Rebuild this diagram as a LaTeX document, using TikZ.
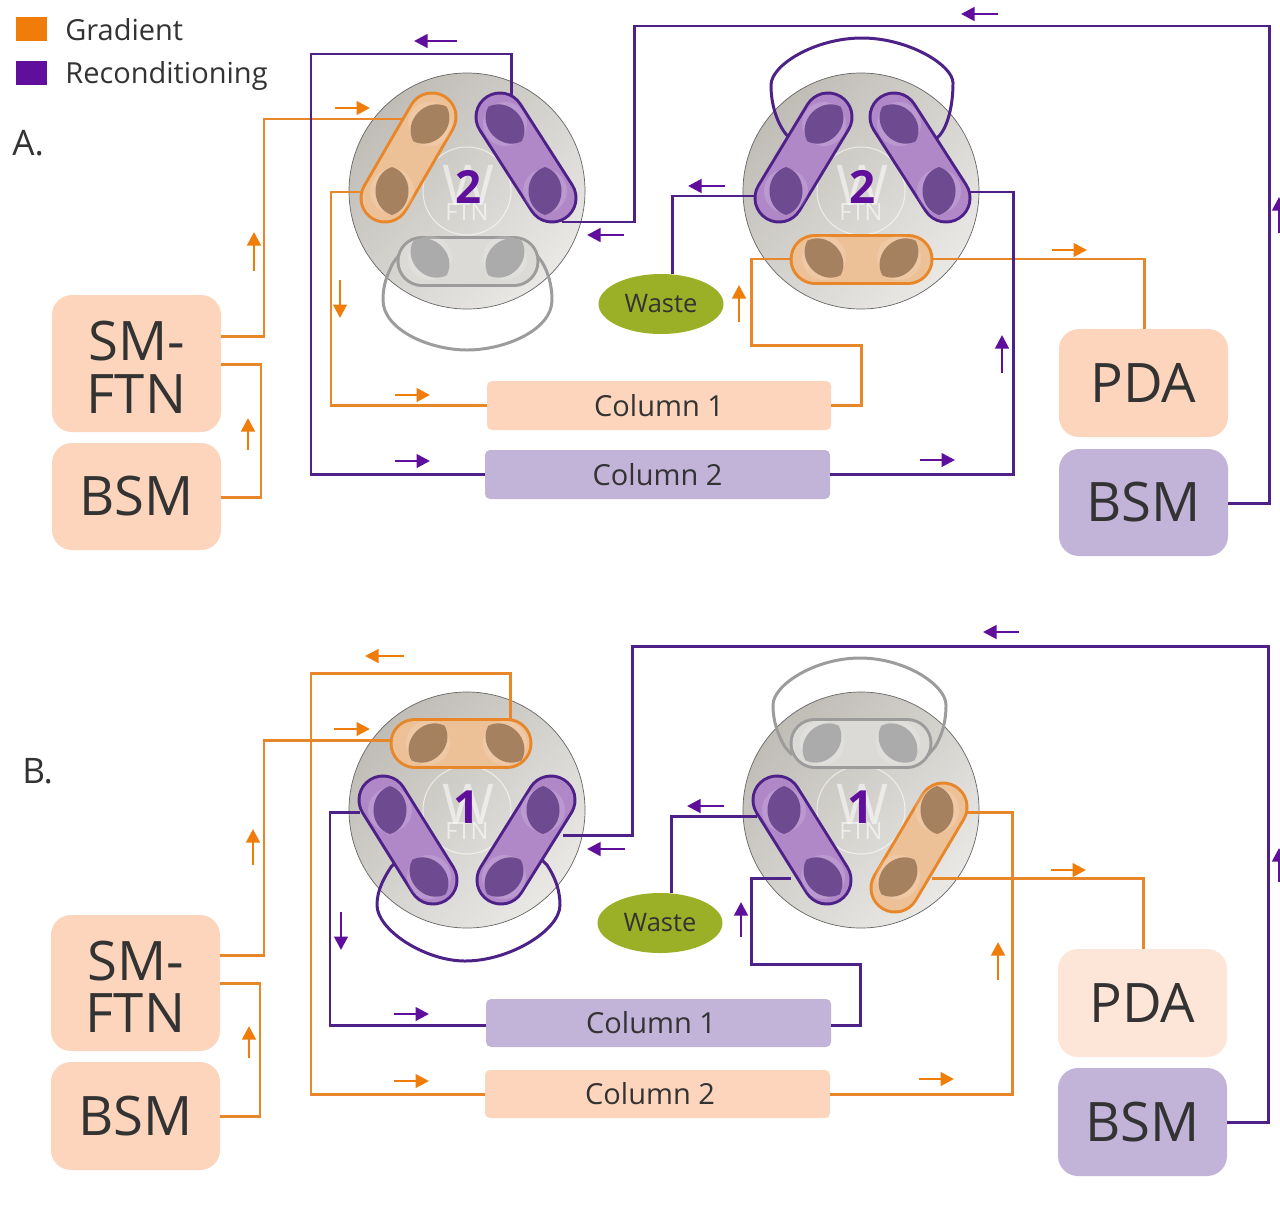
\documentclass[tikz,border=0pt]{standalone}
\usepackage{fontspec}
\setmainfont{Open Sans}
\usetikzlibrary{arrows.meta,calc,shapes.geometric}
\definecolor{org}{HTML}{E8862A}
\definecolor{pur}{HTML}{4E2188}
\definecolor{gry}{HTML}{9C9C9C}
\definecolor{orgbox}{HTML}{FCD5BC}
\definecolor{palebox}{HTML}{FDE6D8}
\definecolor{purbox}{HTML}{C2B3D9}
\definecolor{txt}{HTML}{333333}
\definecolor{wastec}{HTML}{9BB026}
\definecolor{legorg}{HTML}{F07C0A}
\definecolor{legpur}{HTML}{5F0F9B}
\definecolor{numpur}{HTML}{5F0F9B}
\definecolor{faceA}{HTML}{C0BDB7}
\definecolor{faceB}{HTML}{E9E8E5}
\definecolor{slotO}{HTML}{EDC198}
\definecolor{slotP}{HTML}{B088C8}
\definecolor{slotG}{HTML}{DCDAD6}
\definecolor{holeO}{HTML}{A5815F}
\definecolor{holeP}{HTML}{6E4A90}
\definecolor{holeG}{HTML}{ABABAB}
\tikzset{
  x=0.02cm,y=-0.02cm,
  orgline/.style={draw=org,line width=1.7pt,line join=miter},
  purline/.style={draw=pur,line width=1.7pt,line join=miter},
  gryline/.style={draw=gry,line width=1.7pt},
  orgmark/.style={draw=legorg,line width=1.6pt,-{Triangle[length=0.27cm,width=0.27cm]}},
  purmark/.style={draw=legpur,line width=1.6pt,-{Triangle[length=0.27cm,width=0.27cm]}},
  boxbase/.style={rectangle,rounded corners=0.4cm,inner sep=0pt,text=txt,align=center},
  colbase/.style={rectangle,rounded corners=0.1cm,inner sep=0pt,text=txt},
  bigtext/.style={font=\fontsize{31}{33}\selectfont},
  coltext/.style={font=\fontsize{16.5}{19}\selectfont},
  wastebox/.style={ellipse,minimum width=2.5cm,minimum height=1.2cm,inner sep=0pt,fill=wastec,text=txt,font=\fontsize{14.5}{16}\selectfont},
}
\newcommand\pxbox[7]{% name x1 y1 x2 y2 style text
  \node[#6,minimum width={(#4-#2)*0.02cm},minimum height={(#5-#3)*0.02cm}] (#1) at ({(#2+#4)/2},{(#3+#5)/2}) {#7};}
\newcommand\vface[3]{% name cx cy
  \shade[left color=faceA,right color=faceB,shading angle=45,draw=gray!80!black,line width=0.4pt] (#2,#3) circle[radius=118];
  \draw[white,opacity=.6,line width=0.6pt] (#2,#3) circle[radius=44];
  \node[text=white,opacity=.55,inner sep=0pt,font=\fontsize{32}{32}\selectfont] (#1w) at (#2+2,#3-6) {W};
  \node[text=white,opacity=.6,inner sep=0pt,font=\fontsize{13.5}{14}\selectfont] (#1f) at (#2,#3+21) {FTN};
}
\newcommand\vnum[4]{\node[text=numpur,inner sep=0pt,font=\bfseries\fontsize{26}{26}\selectfont] (#1n) at (#2+2,#3-4) {#4};}
\newcommand\vslot[6]{% x1 y1 x2 y2 outline inner
  \draw[#5,line cap=round,line width=1.02cm] (#1,#2) -- (#3,#4);
  \draw[#6,line cap=round,line width=0.9cm] (#1,#2) -- (#3,#4);}
\newcommand\vhole[4]{% x y angle colour
  \begin{scope}[shift={(#1,#2)},rotate=#3]
    \fill[white,opacity=.14] (0,0) circle[radius=22];
    \fill[#4] (-24,0) .. controls (-17,-22) and (17,-22) .. (24,0) .. controls (17,22) and (-17,22) .. (-24,0) -- cycle;
  \end{scope}}
\begin{document}
\begin{tikzpicture}
\useasboundingbox (0,0) rectangle (1280,1207);
\fill[white] (0,0) rectangle (1280,1207);

% legend
\fill[legorg] (16,17) rectangle (47,41);
\fill[legpur] (16,61) rectangle (47,85);
\node[anchor=west,inner sep=0pt,text=txt,coltext] (lg) at (65,30) {Gradient};
\node[anchor=west,inner sep=0pt,text=txt,coltext] (lr) at (65,76) {Reconditioning};
\node[anchor=west,inner sep=0pt,text=txt,font=\fontsize{20}{22}\selectfont] (la) at (12,143) {A.};
\node[anchor=west,inner sep=0pt,text=txt,font=\fontsize{20}{22}\selectfont] (lb) at (22,771) {B.};

% ---- boxes A
\pxbox{smA}{52}{295}{221}{432}{boxbase,fill=orgbox,bigtext}{\rule{0pt}{26.5pt}SM-\\[-0.1em]FTN}
\pxbox{bsmA}{52}{443}{221}{550}{boxbase,fill=orgbox,bigtext}{BSM}
\pxbox{colA}{487}{381}{831}{430}{colbase,fill=orgbox,coltext}{Column 1}
\pxbox{coltA}{485}{450}{830}{499}{colbase,fill=purbox,coltext}{Column 2}
\pxbox{pdaA}{1059}{329}{1228}{437}{boxbase,fill=orgbox,bigtext}{PDA}
\pxbox{bspA}{1059}{449}{1228}{556}{boxbase,fill=purbox,bigtext}{BSM}
\node[wastebox] (wA) at (661,304) {Waste};
% ---- boxes B
\pxbox{smB}{51}{915}{220}{1051}{boxbase,fill=orgbox,bigtext}{\rule{0pt}{26.5pt}SM-\\[-0.1em]FTN}
\pxbox{bsmB}{51}{1062}{220}{1170}{boxbase,fill=orgbox,bigtext}{BSM}
\pxbox{colB}{486}{999}{831}{1047}{colbase,fill=purbox,coltext}{\hspace*{-0.3cm}Column 1}
\pxbox{coltB}{485}{1070}{830}{1118}{colbase,fill=orgbox,coltext}{\hspace*{-0.3cm}Column 2}
\pxbox{pdaB}{1058}{949}{1227}{1057}{boxbase,fill=palebox,bigtext}{PDA}
\pxbox{bspB}{1058}{1068}{1227}{1176}{boxbase,fill=purbox,bigtext}{BSM}
\node[wastebox] (wB) at (660,923) {Waste};

% ---- ports
\coordinate (a1) at (405,119);
\coordinate (a2) at (362,192);
\coordinate (a3) at (511,97);
\coordinate (a4) at (562,222);
\coordinate (a5) at (757,196);
\coordinate (a6) at (970,192);
\coordinate (a7) at (792,259);
\coordinate (a8) at (930,259);
\coordinate (b1) at (394,740);
\coordinate (b2) at (510,720);
\coordinate (b3) at (360,812);
\coordinate (b4) at (563,835);
\coordinate (b5) at (757,816);
\coordinate (b6) at (791,878);
\coordinate (b7) at (966,812);
\coordinate (b8) at (932,878);

% ---- valve faces and loops
\vface{vA}{467}{191}
\vface{vC}{861}{191}
\vface{vB}{467}{810}
\vface{vD}{861}{810}
\draw[gryline] (399,255) -- (393,263) .. controls (387,275) and (383,285) .. (383,300) .. controls (383,330) and (430,350) .. (467,350) .. controls (505,350) and (552,330) .. (552,300) .. controls (552,285) and (548,272) .. (542,262) -- (536,254);
\draw[purline] (792,141) -- (785,133) .. controls (777,122) and (771,105) .. (771,85) .. controls (771,65) and (815,38) .. (862,38) .. controls (908,38) and (953,65) .. (953,83) .. controls (953,105) and (948,125) .. (940,135) -- (932,143);
\draw[purline] (398,860) -- (391,867) .. controls (384,878) and (377,890) .. (377,905) .. controls (377,930) and (425,961) .. (465,961) .. controls (510,961) and (560,930) .. (560,905) .. controls (560,890) and (555,877) .. (547,865) -- (540,858);
\draw[gryline] (792,755) -- (785,747) .. controls (778,735) and (773,722) .. (773,705) .. controls (773,685) and (815,658) .. (860,658) .. controls (905,658) and (946,685) .. (946,705) .. controls (946,722) and (942,735) .. (935,747) -- (928,755);

% ---- connectors A
\draw[orgline] (smA.east |- 0,336) -- (264,336) -- (264,119) -- (a1);
\draw[orgline] (smA.east |- 0,364) -- (261,364) -- (261,497) -- (bsmA.east |- 0,497);
\draw[orgline] (a2) -- (331,192) -- (331,405) -- (colA.west |- 0,405);
\draw[orgline] (colA.east |- 0,405) -- (861,405) -- (861,345) -- (751,345) -- (751,259) -- (a7);
\draw[orgline] (a8) -- (1144,259) -- (pdaA.north -| 1144,0);
\draw[purline] (a3) -- (511,54) -- (311,54) -- (311,474) -- (coltA.west |- 0,474);
\draw[purline] (a4) -- (634,222) -- (634,26) -- (1269,26) -- (1269,503) -- (bspA.east |- 0,503);
\draw[purline] (coltA.east |- 0,474) -- (1013,474) -- (1013,192) -- (a6);
\draw[purline] (a5) -- (672,196) -- (wA.north -| 672,0);
% ---- connectors B
\draw[orgline] (smB.east |- 0,955) -- (264,955) -- (264,740) -- (b1);
\draw[orgline] (smB.east |- 0,983) -- (260,983) -- (260,1116) -- (bsmB.east |- 0,1116);
\draw[orgline] (b2) -- (510,673) -- (311,673) -- (311,1094) -- (coltB.west |- 0,1094);
\draw[orgline] (coltB.east |- 0,1094) -- (1012,1094) -- (1012,812) -- (b7);
\draw[orgline] (b8) -- (1143,878) -- (pdaB.north -| 1143,0);
\draw[purline] (b3) -- (330,812) -- (330,1025) -- (colB.west |- 0,1025);
\draw[purline] (b4) -- (632,835) -- (632,646) -- (1268,646) -- (1268,1122) -- (bspB.east |- 0,1122);
\draw[purline] (colB.east |- 0,1025) -- (860,1025) -- (860,964) -- (751,964) -- (751,878) -- (b6);
\draw[purline] (b5) -- (671,816) -- (wB.north -| 671,0);

% ---- slots and holes: valve A left
\vslot{432}{117}{385}{198}{org}{slotO}
\vhole{430}{124}{46}{holeO}\vhole{392}{191}{90}{holeO}
\vslot{500}{117}{552}{198}{pur}{slotP}
\vhole{505}{124}{-46}{holeP}\vhole{545}{191}{90}{holeP}
\vslot{422}{261}{514}{261}{gry}{slotG}
\vhole{430}{258}{-46}{holeG}\vhole{505}{258}{46}{holeG}
% valve A right
\vslot{828}{117}{779}{198}{pur}{slotP}
\vhole{824}{124}{46}{holeP}\vhole{786}{191}{90}{holeP}
\vslot{894}{117}{946}{198}{pur}{slotP}
\vhole{899}{124}{-46}{holeP}\vhole{939}{191}{90}{holeP}
\vslot{815}{259}{908}{259}{org}{slotO}
\vhole{824}{258}{-46}{holeO}\vhole{899}{258}{46}{holeO}
% valve B left
\vslot{415}{743}{507}{743}{org}{slotO}
\vhole{428}{743}{46}{holeO}\vhole{505}{743}{-46}{holeO}
\vslot{383}{800}{433}{880}{pur}{slotP}
\vhole{390}{810}{90}{holeP}\vhole{429}{877}{-46}{holeP}
\vslot{551}{800}{501}{880}{pur}{slotP}
\vhole{543}{810}{90}{holeP}\vhole{504}{877}{46}{holeP}
% valve B right
\vslot{815}{743}{907}{743}{gry}{slotG}
\vhole{822}{743}{46}{holeG}\vhole{898}{743}{-46}{holeG}
\vslot{777}{800}{827}{880}{pur}{slotP}
\vhole{784}{810}{90}{holeP}\vhole{823}{877}{-46}{holeP}
\vslot{943}{807}{895}{888}{org}{slotO}
\vhole{937}{810}{90}{holeO}\vhole{898}{877}{46}{holeO}

\vnum{vA}{467}{191}{2}
\vnum{vC}{861}{191}{2}
\vnum{vB}{465}{811}{1}
\vnum{vD}{859}{811}{1}

% ---- flow marks A
\draw[orgmark] (335,108) -- (370,108);
\draw[orgmark] (254,271) -- (254,232);
\draw[orgmark] (248,450) -- (248,418);
\draw[orgmark] (340,280) -- (340,318);
\draw[orgmark] (395,395) -- (430,395);
\draw[orgmark] (739,322) -- (739,285);
\draw[orgmark] (1052,250) -- (1087,250);
\draw[purmark] (457,41) -- (414,41);
\draw[purmark] (624,235) -- (587,235);
\draw[purmark] (725,186) -- (688,186);
\draw[purmark] (998,14) -- (961,14);
\draw[purmark] (1002,373) -- (1002,335);
\draw[purmark] (395,461) -- (430,461);
\draw[purmark] (920,460) -- (955,460);
\draw[purmark] (1279,233) -- (1279,197);
% ---- flow marks B
\draw[orgmark] (404,656) -- (365,656);
\draw[orgmark] (334,729) -- (370,729);
\draw[orgmark] (253,865) -- (253,829);
\draw[orgmark] (249,1058) -- (249,1026);
\draw[orgmark] (394,1081) -- (429,1081);
\draw[orgmark] (919,1079) -- (954,1079);
\draw[orgmark] (998,980) -- (998,942);
\draw[orgmark] (1051,870) -- (1086,870);
\draw[purmark] (1019,632) -- (983,632);
\draw[purmark] (625,849) -- (587,849);
\draw[purmark] (724,806) -- (687,806);
\draw[purmark] (341,912) -- (341,950);
\draw[purmark] (394,1014) -- (429,1014);
\draw[purmark] (741,937) -- (741,902);
\draw[purmark] (1279,882) -- (1279,848);
\end{tikzpicture}
\end{document}
